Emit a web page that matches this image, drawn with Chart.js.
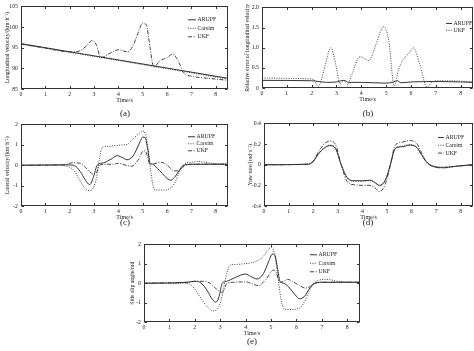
<!DOCTYPE html>
<html><head><meta charset="utf-8">
<script src="https://cdn.jsdelivr.net/npm/chart.js@4.4.1/dist/chart.umd.min.js"></script>
<style>
html,body{margin:0;padding:0;background:#fff;width:474px;height:351px;overflow:hidden;position:relative;}
canvas{position:absolute;}
.lbl{position:absolute;font-family:"Liberation Serif",serif;font-size:9px;color:#222;transform:translate(-50%,-50%);white-space:nowrap;}
</style></head><body>
<canvas id="ca"></canvas><canvas id="cb"></canvas><canvas id="cc"></canvas><canvas id="cd"></canvas><canvas id="ce"></canvas>
<div class="lbl" style="left:125px;top:113px">(a)</div>
<div class="lbl" style="left:368px;top:113px">(b)</div>
<div class="lbl" style="left:125px;top:222px">(c)</div>
<div class="lbl" style="left:368px;top:222px">(d)</div>
<div class="lbl" style="left:252px;top:341px">(e)</div>
<script>
// ---------- data ----------
const xTicksMax = 8.5;
// (a) longitudinal velocity
const a_t_arupf = [0, 8.5];
const a_arupf   = [96.0, 87.6];
const a_t_carsim = [0, 8.5];
const a_carsim   = [95.9, 87.4];
const a_t_ukf = [0,1,2,2.4,2.7,2.93,3.1,3.28,3.6,4.0,4.38,4.6,4.8,5.0,5.15,5.3,5.45,5.7,6.0,6.24,6.45,6.69,7.0,7.5,8.0,8.5];
const a_ukf   = [95.9,94.9,94.0,94.2,95.5,96.8,95.6,92.6,93.5,94.5,94.0,95.5,98.5,101.0,100.5,95.0,90.3,91.8,92.6,93.5,91.8,88.9,88.1,87.7,87.4,87.1];
// (b) relative error
const b_t_arupf = [0,2,2.3,2.6,3.0,3.3,3.5,4,5,5.3,5.45,5.6,6,7,8,8.5];
const b_arupf   = [0.19,0.18,0.16,0.14,0.15,0.19,0.14,0.14,0.12,0.15,0.18,0.13,0.15,0.16,0.15,0.14];
const b_t_ukf = [0,1,2,2.1,2.27,2.5,2.77,3.0,3.14,3.3,3.45,3.6,3.95,4.3,4.6,4.9,5.1,5.33,5.5,5.7,5.9,6.1,6.35,6.65,6.85,7.0,8.0,8.5];
const b_ukf   = [0.25,0.24,0.22,0.2,0.04,0.45,1.0,0.5,0.1,0.18,0.08,0.3,0.78,0.68,1.1,1.53,1.2,0.05,0.45,0.72,0.85,1.0,0.6,0.02,0.15,0.18,0.17,0.15];
// (c) lateral velocity
const c_t_arupf = [0,1.8,2.15,2.43,2.64,2.82,2.97,3.13,3.4,3.7,3.95,4.2,4.35,4.6,4.85,5.0,5.1,5.2,5.3,5.4,5.6,5.8,6.0,6.15,6.3,6.5,6.65,7.0,8.5];
const c_arupf   = [0,0.02,0.0,-0.3,-0.72,-0.95,-0.6,0.0,0.12,0.3,0.47,0.35,0.27,0.45,1.05,1.38,1.35,0.8,0.1,0.05,-0.15,-0.4,-0.65,-0.73,-0.6,-0.25,-0.02,0.05,0.05];
const c_t_carsim = [0,1.5,1.8,2.15,2.43,2.64,2.8,2.97,3.1,3.2,3.35,3.6,3.9,4.2,4.4,4.6,4.9,5.0,5.1,5.2,5.3,5.42,5.55,5.8,6.1,6.3,6.5,6.7,7.0,7.3,7.8,8.5];
const c_carsim   = [0,0,-0.03,-0.22,-0.77,-1.15,-1.25,-1.1,-0.6,0.2,0.88,0.93,0.97,1.0,1.05,1.3,1.6,1.68,1.55,1.0,0.0,-1.0,-1.22,-1.22,-1.15,-0.9,-0.35,0.05,0.15,0.18,0.1,0.05];
const c_t_ukf = [0,1.8,2.1,2.4,2.6,2.8,3.0,3.1,3.25,3.5,3.8,4.0,4.3,4.55,4.8,5.05,5.15,5.3,5.5,5.75,6.0,6.3,6.5,6.7,7,8.5];
const c_ukf   = [0,0.02,0.12,0.1,-0.05,-0.3,-0.45,-0.35,0.02,0.05,0.05,0.1,0.0,-0.05,0.25,0.72,0.6,0.05,0.08,0.15,0.0,-0.28,-0.25,-0.05,0.05,0.05];
// (d) yaw rate
const d_t = [0,1.8,2.0,2.2,2.45,2.67,2.9,3.14,3.4,3.7,4.0,4.3,4.5,4.7,4.93,5.14,5.3,5.45,5.65,5.9,6.2,6.4,6.6,6.9,7.3,7.8,8.5];
const d_arupf  = [0,0.005,0.03,0.1,0.16,0.185,0.16,0.0,-0.13,-0.155,-0.155,-0.15,-0.17,-0.2,-0.15,0.0,0.14,0.17,0.175,0.19,0.17,0.1,0.03,-0.015,-0.025,-0.015,0];
const d_carsim = [0,0.005,0.035,0.105,0.165,0.19,0.165,0.0,-0.135,-0.16,-0.16,-0.155,-0.175,-0.205,-0.155,0.0,0.145,0.175,0.18,0.195,0.175,0.1,0.03,-0.02,-0.03,-0.015,0];
const d_ukf    = [0,0.005,0.035,0.12,0.2,0.23,0.2,0.0,-0.17,-0.195,-0.2,-0.2,-0.22,-0.26,-0.19,0.0,0.17,0.21,0.22,0.235,0.21,0.12,0.03,-0.02,-0.03,-0.015,0];
// (e) side slip angle
const e_t_arupf = [0,1.7,2.0,2.2,2.45,2.65,2.83,2.95,3.08,3.25,3.6,4.0,4.2,4.45,4.7,4.9,5.05,5.15,5.25,5.35,5.5,5.7,5.95,6.12,6.3,6.5,6.65,7.0,8.5];
const e_arupf   = [0,0.05,0.1,0.05,-0.3,-0.75,-0.98,-0.7,0.0,0.1,0.3,0.48,0.35,0.22,0.5,1.1,1.5,1.45,0.8,0.1,0.0,-0.2,-0.6,-0.8,-0.7,-0.3,-0.05,0.05,0.05];
const e_t_carsim = [0,1.6,1.8,2.0,2.2,2.45,2.71,2.9,3.05,3.2,3.4,3.6,3.9,4.2,4.45,4.7,4.9,5.0,5.1,5.2,5.3,5.42,5.55,5.8,6.1,6.3,6.5,6.8,7.2,7.7,8.5];
const e_carsim   = [0,0,-0.05,-0.3,-0.7,-1.15,-1.42,-1.3,-0.8,0.2,0.95,0.97,1.0,1.05,1.15,1.4,1.75,1.85,1.7,1.0,0.0,-1.0,-1.35,-1.35,-1.3,-1.0,-0.4,0.12,0.2,0.08,0.05];
const e_t_ukf = [0,1.7,2.0,2.4,2.6,2.85,3.08,3.27,3.5,4.0,4.5,4.8,5.1,5.2,5.35,5.5,5.65,5.9,6.1,6.35,6.5,6.7,7.0,8.5];
const e_ukf   = [0,0.05,0.1,0.1,0.0,-0.3,-0.47,0.0,0.05,0.07,-0.12,0.2,0.68,0.55,0.05,0.1,0.2,0.05,-0.1,-0.25,-0.2,-0.02,0.05,0.05];

// ---------- styling ----------
const FONT = "'Liberation Serif','Times New Roman',serif";
const STY = {
  solid:   {dash: [],            color: '#333'},
  dot:     {dash: [1, 1.4],      color: '#444'},
  dashdot: {dash: [4, 1.5, 1, 1.5], color: '#444'}
};
function series(label, ts, vs, st) {
  return {label, data: ts.map((t, i) => ({x: t, y: vs[i]})),
    borderColor: STY[st].color, borderDash: STY[st].dash, borderWidth: 1,
    pointRadius: 0, fill: false, cubicInterpolationMode: 'monotone'};
}

const framePlugin = {
  id: 'frame',
  afterDatasetsDraw(chart) {
    const {ctx, chartArea: a, scales: {x, y}} = chart;
    const L = Math.round(a.left) + 0.5, R = Math.round(a.right) - 0.5;
    const T = Math.round(a.top) + 0.5, B = Math.round(a.bottom) - 0.5;
    ctx.save();
    ctx.strokeStyle = '#333'; ctx.lineWidth = 1; ctx.setLineDash([]);
    ctx.strokeRect(L, T, R - L, B - T);
    ctx.beginPath();
    x.ticks.forEach(t => { const p = Math.round(x.getPixelForValue(t.value)) + 0.5;
      ctx.moveTo(p, B); ctx.lineTo(p, B - 2.5); ctx.moveTo(p, T); ctx.lineTo(p, T + 2.5); });
    y.ticks.forEach(t => { const p = Math.round(y.getPixelForValue(t.value)) + 0.5;
      ctx.moveTo(L, p); ctx.lineTo(L + 2.5, p); ctx.moveTo(R, p); ctx.lineTo(R - 2.5, p); });
    ctx.stroke();
    ctx.restore();
  }
};
const legendPlugin = {
  id: 'cornerLegend',
  afterDraw(chart, args, o) {
    const {ctx, chartArea: a} = chart;
    ctx.save();
    ctx.font = o.size + 'px ' + FONT; ctx.fillStyle = '#222'; ctx.textBaseline = 'middle';
    chart.data.datasets.forEach((ds, i) => {
      const y = a.top + o.y + i * o.dy, x0 = a.right - o.x;
      ctx.strokeStyle = ds.borderColor; ctx.lineWidth = 1; ctx.setLineDash(ds.borderDash);
      ctx.beginPath(); ctx.moveTo(x0, y); ctx.lineTo(x0 + o.len, y); ctx.stroke();
      ctx.fillText(ds.label, x0 + o.len + 1.5, y);
    });
    ctx.restore();
  }
};

function makePanel(id, box, yMin, yMax, yStep, yTitle, yTitleOff, datasets, legend) {
  const cv = document.getElementById(id);
  const W = box.R - box.L + 22, H = box.B - box.T + 24;
  cv.width = W; cv.height = H;
  cv.style.left = (box.L - 20) + 'px'; cv.style.top = (box.T - 4) + 'px';
  cv.style.width = W + 'px'; cv.style.height = H + 'px';
  const tickFont = {family: FONT, size: 5.8};
  new Chart(cv, {
    type: 'line', data: {datasets},
    options: {
      responsive: false, animation: false, devicePixelRatio: 1,
      layout: {padding: {top: 4, right: 2, left: 0, bottom: 0}, autoPadding: false},
      plugins: {legend: {display: false}, tooltip: {enabled: false}, cornerLegend: legend},
      scales: {
        x: {type: 'linear', min: 0, max: xTicksMax,
          ticks: {stepSize: 1, includeBounds: false, padding: 2, color: '#222', font: tickFont, maxRotation: 0, autoSkip: false},
          grid: {display: false, drawTicks: false}, border: {display: false},
          title: {display: true, text: 'Time/s', color: '#222', font: {family: FONT, size: 6}, padding: {top: 0, bottom: 5.4}},
          afterFit(s) { s.height = 20; }},
        y: {type: 'linear', min: yMin, max: yMax,
          ticks: {stepSize: yStep, includeBounds: false, padding: 3, color: '#222', font: tickFont, autoSkip: false},
          grid: {display: false, drawTicks: false}, border: {display: false},
          title: {display: true, text: yTitle, color: '#222', font: {family: FONT, size: 5.8}, padding: {top: yTitleOff, bottom: 0}},
          afterFit(s) { s.width = 20; }}
      }
    },
    plugins: [framePlugin, legendPlugin]
  });
}

makePanel('ca', {L: 21, T: 4, R: 228, B: 89}, 85, 105, 5, 'Longitudinal velocity/(km·h⁻¹)', 2.5, [
  series('ARUPF', a_t_arupf, a_arupf, 'solid'),
  series('Carsim', a_t_carsim, a_carsim, 'dot'),
  series('UKF', a_t_ukf, a_ukf, 'dashdot')
], {x: 40, y: 13.3, dy: 8.5, len: 8, size: 5.8});

makePanel('cb', {L: 262, T: 5, R: 473, B: 88}, 0, 2, 0.5, 'Relative error of longitudinal velocity', 1.5, [
  series('ARUPF', b_t_arupf, b_arupf, 'solid'),
  series('UKF', b_t_ukf, b_ukf, 'dot')
], {x: 27, y: 16, dy: 6.8, len: 6, size: 5.8});

makePanel('cc', {L: 21, T: 122, R: 228, B: 206}, -2, 2, 1, 'Lateral velocity/(km·h⁻¹)', 2.5, [
  series('ARUPF', c_t_arupf, c_arupf, 'solid'),
  series('Carsim', c_t_carsim, c_carsim, 'dot'),
  series('UKF', c_t_ukf, c_ukf, 'dashdot')
], {x: 40, y: 12.3, dy: 7, len: 7, size: 5.8});

makePanel('cd', {L: 264, T: 121, R: 473, B: 206}, -0.4, 0.4, 0.2, 'Yaw rate/(rad·s⁻¹)', 3, [
  series('ARUPF', d_t, d_arupf, 'solid'),
  series('Carsim', d_t, d_carsim, 'dot'),
  series('UKF', d_t, d_ukf, 'dashdot')
], {x: 35, y: 14, dy: 7.8, len: 6, size: 5.8});

makePanel('ce', {L: 144, T: 242, R: 360, B: 322}, -2, 2, 1, 'Side slip angle/rad', 5, [
  series('ARUPF', e_t_arupf, e_arupf, 'solid'),
  series('Carsim', e_t_carsim, e_carsim, 'dot'),
  series('UKF', e_t_ukf, e_ukf, 'dashdot')
], {x: 50, y: 10.3, dy: 8.5, len: 7, size: 5.8});
</script>
</body></html>
